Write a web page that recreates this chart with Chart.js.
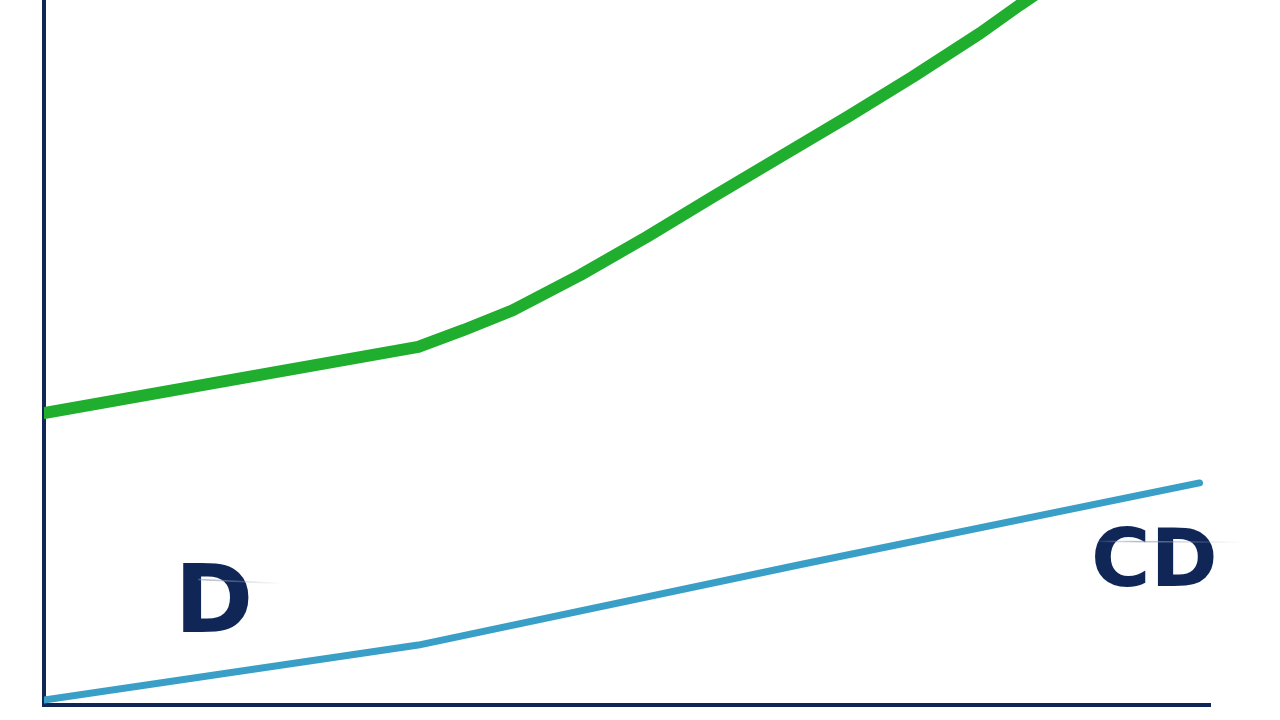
<!DOCTYPE html>
<html>
<head>
<meta charset="utf-8">
<script src="https://cdn.jsdelivr.net/npm/chart.js@4/dist/chart.umd.min.js"></script>
<style>
html,body{margin:0;padding:0;background:#ffffff;}
#wrap{width:1280px;height:720px;position:relative;}
</style>
</head>
<body>
<div id="wrap"><canvas id="c" width="1280" height="720"></canvas></div>
<script>
// Green series (x, y)
const greenX = [0, 32.1, 36.0, 40.2, 46.0, 51.7, 57.4, 63.1, 68.9, 74.5, 80.3, 83.7, 87.1];
const greenY = [41.4, 50.8, 53.2, 56.0, 61.0, 66.4, 72.1, 77.7, 83.4, 89.1, 95.3, 99.3, 103.1];
// Blue series
const blueX = [0, 32.1, 64.8, 99.1];
const blueY = [0.7, 8.5, 19.9, 31.5];
// Text labels
const labelText = ["D", "CD"];
const labelX = [11.2, 89.8];
const labelY = [10.4, 16.9];
const labelSize = [95, 81];

const NAVY = "#0f2657";

const labelPlugin = {
  id: "labels",
  afterDatasetsDraw(chart) {
    const ctx = chart.ctx;
    const xs = chart.scales.x, ys = chart.scales.y;
    ctx.save();
    ctx.textBaseline = "alphabetic";
    ctx.textAlign = "left";
    labelText.forEach((t, i) => {
      const px = xs.getPixelForValue(labelX[i]);
      const py = ys.getPixelForValue(labelY[i]);
      const s = labelSize[i];
      ctx.font = "bold " + s + "px 'DejaVu Sans'";
      ctx.fillStyle = NAVY;
      ctx.fillText(t, px, py);
      // faint streak through the letters
      const w = ctx.measureText(t).width;
      const ly = py - s * 0.55;
      const g = ctx.createLinearGradient(px, 0, px + w + s * 0.3, 0);
      g.addColorStop(0, "rgba(150,160,180,0)");
      g.addColorStop(0.3, "rgba(150,160,180,0.7)");
      g.addColorStop(1, "rgba(150,160,180,0)");
      ctx.strokeStyle = g;
      ctx.lineWidth = 1.5;
      ctx.beginPath();
      ctx.moveTo(px + (i === 0 ? s * 0.25 : -s * 0.1), ly);
      ctx.lineTo(px + w + s * 0.3, ly + (i === 0 ? 4 : 1));
      ctx.stroke();
    });
    ctx.restore();
  }
};

new Chart(document.getElementById("c"), {
  type: "line",
  data: {
    datasets: [
      {
        data: greenX.map((x, i) => ({x, y: greenY[i]})),
        borderColor: "#1fae2e",
        borderWidth: 12,
        pointRadius: 0,
        tension: 0,
        borderCapStyle: "round",
        borderJoinStyle: "round"
      },
      {
        data: blueX.map((x, i) => ({x, y: blueY[i]})),
        borderColor: "#3a9fc7",
        borderWidth: 7,
        pointRadius: 0,
        tension: 0,
        borderCapStyle: "round",
        borderJoinStyle: "round"
      }
    ]
  },
  options: {
    responsive: false,
    animation: false,
    devicePixelRatio: 1,
    layout: { padding: { left: 44, right: 70, top: 0, bottom: 15 } },
    plugins: { legend: { display: false }, tooltip: { enabled: false } },
    scales: {
      x: {
        type: "linear", min: 0, max: 100,
        ticks: { display: false },
        grid: { display: false, drawTicks: false },
        border: { display: true, color: NAVY, width: 4 }
      },
      y: {
        type: "linear", min: 0, max: 100,
        ticks: { display: false },
        grid: { display: false, drawTicks: false },
        border: { display: true, color: NAVY, width: 4 }
      }
    }
  },
  plugins: [labelPlugin]
});
</script>
</body>
</html>
